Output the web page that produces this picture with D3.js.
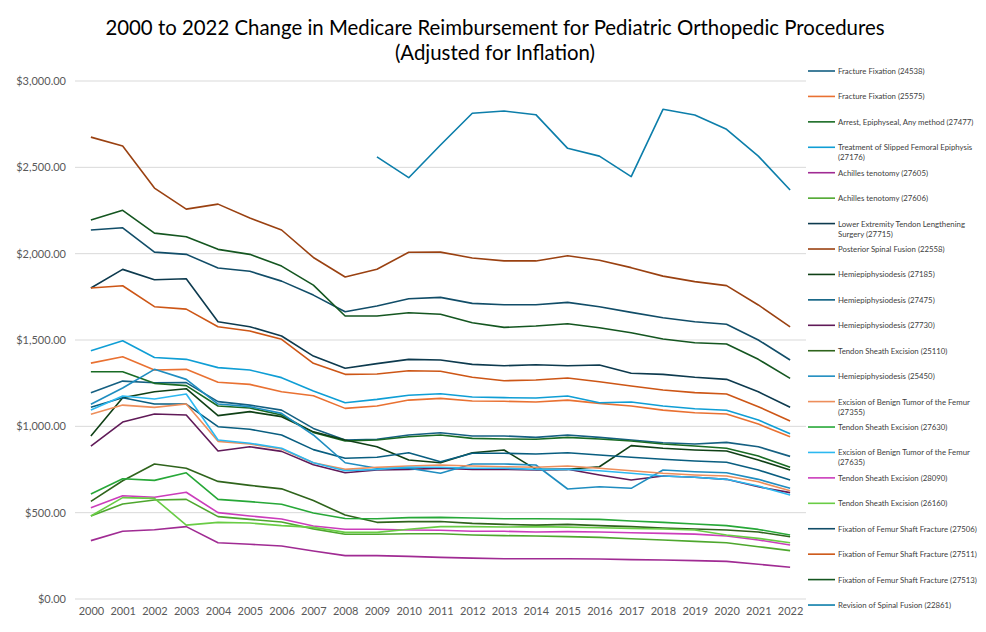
<!DOCTYPE html>
<html>
<head>
<meta charset="utf-8">
<script src="https://cdn.jsdelivr.net/npm/d3@7"></script>
<style>
  body { margin: 0; background: #ffffff; }
  text { font-family: Lato, "Liberation Sans", sans-serif; }
</style>
</head>
<body>
<svg id="chart"></svg>
<script>
// categories
const years = ["2000", "2001", "2002", "2003", "2004", "2005", "2006", "2007", "2008", "2009", "2010",
  "2011", "2012", "2013", "2014", "2015", "2016", "2017", "2018", "2019", "2020", "2021", "2022"];

const yTicks = [0, 500, 1000, 1500, 2000, 2500, 3000];

// series values (inflation adjusted $)
const ff24538 = [1195, 1262, 1252, 1253, 1143, 1123, 1094, 988, 921, 925, 950, 963, 944, 944, 936, 950, 936, 921, 905, 898, 907, 882, 826];
const ff25575 = [1366, 1403, 1326, 1330, 1255, 1243, 1200, 1177, 1104, 1118, 1152, 1162, 1147, 1145, 1141, 1152, 1133, 1118, 1094, 1079, 1071, 1013, 940];
const arrest27477 = [1316, 1316, 1249, 1236, 1118, 1106, 1066, 965, 915, 921, 940, 950, 930, 927, 925, 936, 927, 915, 898, 886, 873, 828, 763];
const sfe27176 = [1438, 1496, 1399, 1388, 1340, 1326, 1282, 1205, 1137, 1156, 1180, 1189, 1170, 1166, 1164, 1176, 1137, 1141, 1118, 1102, 1093, 1037, 957];
const achilles27605 = [338, 392, 401, 419, 326, 317, 307, 278, 251, 251, 247, 241, 237, 233, 233, 233, 232, 228, 226, 222, 218, 201, 184];
const achilles27606 = [481, 550, 573, 577, 477, 461, 446, 406, 375, 375, 378, 378, 371, 367, 365, 361, 357, 349, 342, 334, 326, 303, 280];
const lengthen27715 = [1801, 1909, 1849, 1855, 1606, 1577, 1523, 1407, 1336, 1363, 1388, 1384, 1359, 1351, 1357, 1351, 1355, 1307, 1301, 1284, 1272, 1200, 1110];
const psf22558 = [2675, 2623, 2380, 2258, 2287, 2206, 2137, 1978, 1865, 1910, 2008, 2009, 1975, 1958, 1958, 1988, 1962, 1919, 1870, 1838, 1815, 1703, 1576];
const hemi27185 = [944, 1166, 1200, 1218, 1062, 1085, 1056, 968, 921, 882, 805, 789, 847, 863, 751, 751, 766, 888, 873, 863, 857, 805, 747];
const hemi27475 = [1110, 1166, 1129, 1129, 998, 983, 950, 865, 815, 821, 847, 795, 844, 844, 840, 847, 834, 821, 809, 799, 792, 747, 689];
const hemi27730 = [886, 1025, 1071, 1066, 857, 882, 855, 778, 731, 747, 751, 757, 751, 751, 747, 751, 718, 689, 712, 705, 693, 650, 616];
const tse25110 = [565, 685, 782, 757, 681, 658, 638, 570, 486, 444, 448, 449, 438, 432, 428, 432, 425, 419, 411, 405, 400, 388, 361];
const hemi25450 = [1128, 1222, 1330, 1272, 1129, 1114, 1075, 950, 789, 757, 757, 728, 782, 782, 776, 637, 650, 641, 747, 737, 731, 693, 641];
const tumor27355 = [1070, 1123, 1110, 1129, 913, 898, 869, 789, 751, 763, 770, 776, 770, 766, 763, 770, 757, 743, 728, 718, 712, 679, 627];
const tse27630 = [608, 696, 687, 731, 577, 564, 549, 498, 466, 465, 471, 473, 469, 465, 465, 463, 461, 452, 444, 434, 425, 403, 371];
const tumor27635 = [1094, 1176, 1158, 1187, 921, 902, 873, 789, 743, 751, 763, 763, 757, 757, 751, 751, 743, 728, 712, 705, 693, 654, 602];
const tse28090 = [529, 598, 589, 618, 500, 481, 463, 423, 404, 404, 400, 398, 392, 392, 388, 390, 388, 384, 380, 376, 365, 342, 313];
const tse26160 = [481, 587, 583, 428, 444, 440, 425, 415, 386, 386, 404, 419, 419, 417, 419, 416, 413, 409, 405, 400, 371, 351, 326];
const femur27506 = [2137, 2150, 2009, 1996, 1917, 1898, 1841, 1760, 1664, 1697, 1739, 1747, 1712, 1704, 1704, 1718, 1693, 1660, 1629, 1606, 1591, 1500, 1384];
const femur27511 = [1801, 1814, 1693, 1679, 1577, 1552, 1504, 1365, 1301, 1303, 1322, 1319, 1284, 1264, 1268, 1280, 1258, 1234, 1210, 1195, 1187, 1114, 1031];
const femur27513 = [2195, 2251, 2119, 2098, 2025, 1996, 1928, 1818, 1639, 1639, 1658, 1649, 1600, 1573, 1581, 1594, 1571, 1542, 1506, 1484, 1477, 1388, 1278];
const revision22861 = [null, null, null, null, null, null, null, null, null, 2561, 2440, 2629, 2813, 2826, 2805, 2610, 2565, 2446, 2836, 2803, 2720, 2565, 2369];

// legend labels, in legend order ("\n" = where the legend wraps)
const seriesNames = [
  "Fracture Fixation (24538)",
  "Fracture Fixation (25575)",
  "Arrest, Epiphyseal, Any method (27477)",
  "Treatment of Slipped Femoral Epiphysis\n(27176)",
  "Achilles tenotomy (27605)",
  "Achilles tenotomy (27606)",
  "Lower Extremity Tendon Lengthening\nSurgery (27715)",
  "Posterior Spinal Fusion (22558)",
  "Hemiepiphysiodesis (27185)",
  "Hemiepiphysiodesis (27475)",
  "Hemiepiphysiodesis (27730)",
  "Tendon Sheath Excision (25110)",
  "Hemiepiphysiodesis (25450)",
  "Excision of Benign Tumor of the Femur\n(27355)",
  "Tendon Sheath Excision (27630)",
  "Excision of Benign Tumor of the Femur\n(27635)",
  "Tendon Sheath Excision (28090)",
  "Tendon Sheath Excision (26160)",
  "Fixation of Femur Shaft Fracture (27506)",
  "Fixation of Femur Shaft Fracture (27511)",
  "Fixation of Femur Shaft Fracture (27513)",
  "Revision of Spinal Fusion (22861)"
];

const seriesValues = [ff24538, ff25575, arrest27477, sfe27176, achilles27605, achilles27606,
  lengthen27715, psf22558, hemi27185, hemi27475, hemi27730, tse25110,
  hemi25450, tumor27355, tse27630, tumor27635, tse28090, tse26160,
  femur27506, femur27511, femur27513, revision22861];

const seriesColors = [
  "#156082", "#E97132", "#196B24", "#0F9ED5", "#A02B93", "#4EA72E",
  "#0D3A4E", "#9A4111", "#0F4016", "#095E80", "#601A58", "#2F641C",
  "#1F8DC0", "#ED8E5B", "#27A838", "#2CB8F0", "#CB3DBB", "#69CC45",
  "#114D68", "#CD5616", "#145620", "#0C7EAA"
];

const width = 986, height = 632;
const margin = { top: 81, right: 180, bottom: 33, left: 75 };

const svg = d3.select("#chart")
  .attr("width", width)
  .attr("height", height);

svg.append("rect").attr("width", width).attr("height", height).attr("fill", "#ffffff");

const x = d3.scalePoint()
  .domain(years)
  .range([margin.left, width - margin.right])
  .padding(0.5);

const y = d3.scaleLinear()
  .domain([0, 3000])
  .range([height - margin.bottom, margin.top]);

// gridlines
svg.append("g")
  .selectAll("line")
  .data(yTicks)
  .enter().append("line")
  .attr("x1", margin.left)
  .attr("x2", width - margin.right)
  .attr("y1", d => y(d))
  .attr("y2", d => y(d))
  .attr("stroke", "#d9d9d9")
  .attr("stroke-width", 1);

// y axis labels
const yAxis = d3.axisLeft(y)
  .tickValues(yTicks)
  .tickFormat(d3.format("$,.2f"))
  .tickSize(0)
  .tickPadding(9);

svg.append("g")
  .attr("transform", `translate(${margin.left},0)`)
  .call(yAxis)
  .call(g => g.select(".domain").remove())
  .call(g => g.selectAll("text").attr("fill", "#595959").style("font-size", "11px"));

// x axis labels
const xAxis = d3.axisBottom(x).tickSize(0).tickPadding(8);

svg.append("g")
  .attr("transform", `translate(0,${height - margin.bottom})`)
  .call(xAxis)
  .call(g => g.select(".domain").remove())
  .call(g => g.selectAll("text").attr("fill", "#595959").style("font-size", "11px"));

// lines
const line = d3.line()
  .defined(d => d.v != null)
  .x(d => x(d.year))
  .y(d => y(d.v));

const series = seriesNames.map((name, i) => ({
  name: name,
  color: seriesColors[i],
  points: years.map((yr, j) => ({ year: yr, v: seriesValues[i][j] }))
}));

svg.append("g")
  .selectAll("path")
  .data(series)
  .enter().append("path")
  .attr("fill", "none")
  .attr("stroke", d => d.color)
  .attr("stroke-width", 1.6)
  .attr("stroke-linejoin", "round")
  .attr("d", d => line(d.points));

// title
svg.append("text")
  .attr("x", 495).attr("y", 35)
  .attr("text-anchor", "middle")
  .style("font-size", "20.4px")
  .attr("fill", "#000000")
  .text("2000 to 2022 Change in Medicare Reimbursement for Pediatric Orthopedic Procedures");

svg.append("text")
  .attr("x", 495).attr("y", 60)
  .attr("text-anchor", "middle")
  .style("font-size", "20.4px")
  .attr("fill", "#000000")
  .text("(Adjusted for Inflation)");

// legend
const legend = svg.append("g").attr("transform", "translate(808,71)");
const entry = legend.selectAll("g")
  .data(series)
  .enter().append("g")
  .attr("transform", (d, i) => `translate(0,${i * 25.43})`);

entry.append("line")
  .attr("x1", 0).attr("x2", 27)
  .attr("y1", 0).attr("y2", 0)
  .attr("stroke", d => d.color)
  .attr("stroke-width", 1.6);

entry.append("text")
  .attr("x", 30)
  .attr("y", 0)
  .attr("dominant-baseline", "central")
  .style("font-size", "7.8px")
  .attr("fill", "#404040")
  .selectAll("tspan")
  .data(d => d.name.split("\n"))
  .enter().append("tspan")
  .attr("x", 30)
  .attr("dy", (d, i) => i === 0 ? 0 : 10)
  .text(d => d);
</script>
</body>
</html>
